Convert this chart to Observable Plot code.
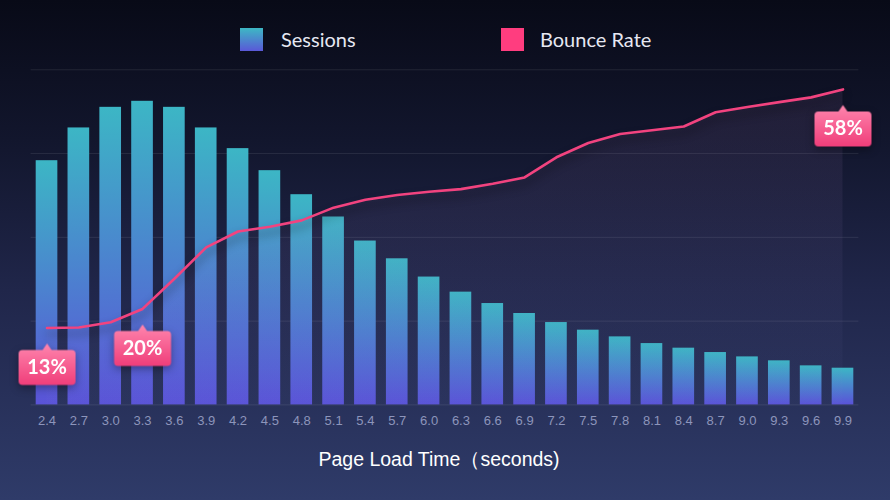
<!DOCTYPE html>
<html>
<head>
<meta charset="utf-8">
<script src="https://cdn.jsdelivr.net/npm/d3@7"></script>
<script src="https://cdn.jsdelivr.net/npm/@observablehq/plot@0.6"></script>
<style>
  body { margin: 0; background: #0a0c1a; }
  #chart {
    width: 890px; height: 500px; position: relative; overflow: hidden;
    background: linear-gradient(to bottom, #080a17 0%, #12162d 28%, #20264a 58%, #2f3b69 100%);
    font-family: Lato, "Open Sans", sans-serif;
  }
  #legend { position: relative; height: 62px; }
  .sw { position: absolute; top: 28px; width: 23px; height: 23px; }
  .lt { position: absolute; top: 27px; line-height: 24px; font-size: 20px; color: #e6e8f2; font-family: Lato, sans-serif; }
  #plots { position: relative; width: 890px; height: 438px; }
  #plots svg { position: absolute; left: 0; top: 0; }
  #plots g[aria-label="line"] { filter: drop-shadow(0px 6px 5px rgba(0,0,0,0.45)); }
  #plots g[aria-label="dot"] { filter: drop-shadow(0px 3px 4px rgba(0,0,0,0.35)); }
</style>
</head>
<body>
<div id="chart">
  <div id="legend">
    <div class="sw" style="left:240px;background:linear-gradient(to bottom,#3db8c4,#5a58d8);"></div>
    <div class="lt" style="left:281px;">Sessions</div>
    <div class="sw" style="left:501px;background:#ff3d7f;"></div>
    <div class="lt" style="left:540px;">Bounce Rate</div>
  </div>
  <div id="plots"></div>
</div>
<script>
// ---- data ----
const loadTimes = ["2.4","2.7","3.0","3.3","3.6","3.9","4.2","4.5","4.8","5.1","5.4","5.7","6.0",
                   "6.3","6.6","6.9","7.2","7.5","7.8","8.1","8.4","8.7","9.0","9.3","9.6","9.9"];
const sessions = [2915,3306,3552,3624,3552,3306,3059,2796,2509,2243,1956,1744,1526,
                  1346,1210,1091,983,892,812,732,677,625,573,526,466,438];
const bounceRate = [13.0,13.1,14.1,16.6,22.3,28.2,31.2,32.1,33.3,35.7,37.2,38.1,38.7,
                    39.2,40.2,41.4,45.2,47.9,49.6,50.3,51.0,53.7,54.7,55.6,56.5,58.0];
const calloutTimes = ["2.4","3.3","9.9"];
const calloutTexts = ["13%","20%","58%"];
const gridTicks = [0,1000,2000,3000,4000];
const axisTitle = "Page Load Time（seconds)";

const rows = loadTimes.map((t, i) => ({time: t, sessions: sessions[i], bounce: bounceRate[i]}));
const callouts = calloutTimes.map((t, i) => ({time: t, text: calloutTexts[i], bounce: bounceRate[loadTimes.indexOf(t)]}));

const W = 890, H = 438;
const common = {
  width: W, height: H,
  marginLeft: 30.6, marginRight: 31.6, marginTop: 7.3, marginBottom: 95.6,
  style: {background: "transparent", overflow: "visible"}
};
const xScale = {domain: loadTimes, paddingInner: 0.32, paddingOuter: 0.16, round: false};

// callout shape: rounded box with a small pointer, hanging below the anchor point
const calloutSymbol = {
  draw(ctx) {
    const w = 28.5, t = 22, b = 57, r = 4;
    ctx.moveTo(-w + r, t);
    ctx.lineTo(-4.5, t);
    ctx.lineTo(0, 15.5);
    ctx.lineTo(4.5, t);
    ctx.lineTo(w - r, t);
    ctx.arcTo(w, t, w, t + r, r);
    ctx.lineTo(w, b - r);
    ctx.arcTo(w, b, w - r, b, r);
    ctx.lineTo(-w + r, b);
    ctx.arcTo(-w, b, -w, b - r, r);
    ctx.lineTo(-w, t + r);
    ctx.arcTo(-w, t, -w + r, t, r);
    ctx.closePath();
  }
};

function addDefs(svg, html) {
  const defs = document.createElementNS("http://www.w3.org/2000/svg", "defs");
  defs.innerHTML = html;
  svg.insertBefore(defs, svg.firstChild);
}

// ---- bars layer ----
const bars = Plot.plot({
  ...common,
  x: {...xScale, tickSize: 0, tickPadding: 11, label: null},
  y: {domain: [0, 4000], axis: null},
  style: {background: "transparent", overflow: "visible", color: "#8d95bb", fontSize: "13px", fontFamily: "'Liberation Sans', Arial, sans-serif"},
  marks: [
    Plot.ruleY(gridTicks, {stroke: "#ffffff", strokeOpacity: 0.09, strokeWidth: 1}),
    Plot.barY(rows, {x: "time", y: "sessions", fill: "url(#barGrad)"}),
    Plot.text([axisTitle], {frameAnchor: "bottom", dy: 61, dx: -6, fontSize: 19.5, fill: "#ffffff",
      fontFamily: "'Liberation Sans', Arial, sans-serif"})
  ]
});
addDefs(bars, `<linearGradient id="barGrad" x1="0" y1="0" x2="0" y2="1">
  <stop offset="0%" stop-color="#3cb6c5"/><stop offset="100%" stop-color="#5a53d8"/></linearGradient>`);

// ---- bounce rate layer ----
const lineLayer = Plot.plot({
  ...common,
  x: {...xScale, axis: null},
  y: {domain: [-1.5, 61.7], axis: null},
  marks: [
    Plot.areaY(rows, {x: "time", y1: -1.5, y2: "bounce", fill: "url(#areaGrad)"}),
    Plot.lineY(rows, {x: "time", y: "bounce", stroke: "#f2437f", strokeWidth: 2.6}),
    Plot.dot(callouts, {x: "time", y: "bounce", symbol: calloutSymbol, r: 10, fill: "url(#tagGrad)", stroke: "none"}),
    Plot.text(callouts, {x: "time", y: "bounce", text: "text", dy: 39.5, fill: "#ffffff",
      fontSize: 20, fontWeight: 700, fontFamily: "Lato, sans-serif"})
  ]
});
addDefs(lineLayer, `<linearGradient id="areaGrad" x1="0" y1="0" x2="0" y2="1">
  <stop offset="0%" stop-color="#b07ab8" stop-opacity="0.12"/><stop offset="100%" stop-color="#8080c0" stop-opacity="0.03"/></linearGradient>
  <linearGradient id="tagGrad" x1="0" y1="0" x2="0" y2="1">
  <stop offset="0%" stop-color="#ff86ae"/><stop offset="100%" stop-color="#f03e7a"/></linearGradient>`);

const holder = document.getElementById("plots");
holder.appendChild(bars);
holder.appendChild(lineLayer);
</script>
</body>
</html>
